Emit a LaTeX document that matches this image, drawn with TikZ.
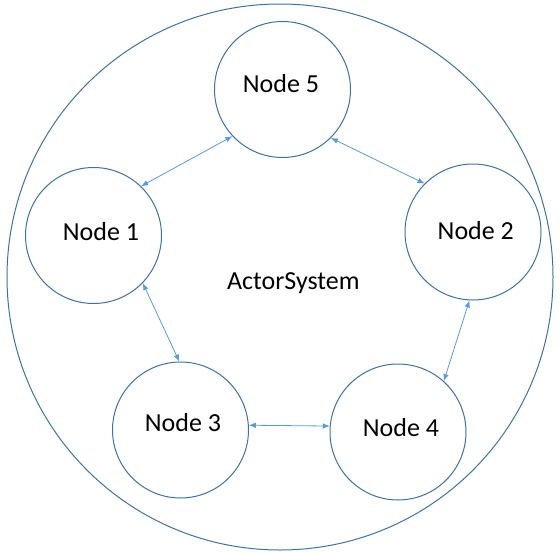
\documentclass[tikz,border=0pt]{standalone}
\usepackage{fontspec}
\setmainfont{Carlito}
\usetikzlibrary{arrows.meta, positioning}
\definecolor{ringblue}{RGB}{65,113,156}
\definecolor{linkblue}{RGB}{91,155,213}

\begin{document}
\begin{tikzpicture}[x=1pt, y=-1pt,
  actor/.style={draw=ringblue, line width=1pt, circle, inner sep=0pt, minimum size=136pt},
  txt/.style={anchor=base, inner sep=0pt, font=\fontsize{26}{30}\selectfont},
  link/.style={{Latex[length=7pt,width=5.5pt]}-{Latex[length=7pt,width=5.5pt]}, draw=linkblue, line width=0.8pt}]
  \useasboundingbox (0,0) rectangle (560,554);

  % ActorSystem
  \node[draw=ringblue, line width=1pt, circle, inner sep=0pt, minimum size=546pt] (sys) at (280,277) {};
  \node[txt] (systxt) at (293.3,289.3) {ActorSystem};

  % Nodes
  \node[actor] (n5) at (282.5,89.5) {};
  \node[actor] (n1) at (93.5,235.5) {};
  \node[actor] (n2) at (473,232) {};
  \node[actor] (n3) at (180.5,430) {};
  \node[actor] (n4) at (398,432) {};

  % Labels
  \node[txt] (t5) at (281,92.7) {Node 5};
  \node[txt] (t1) at (101,240.7) {Node 1};
  \node[txt] (t2) at (475.8,239.3) {Node 2};
  \node[txt] (t3) at (183,431) {Node 3};
  \node[txt] (t4) at (401,436) {Node 4};

  % Links
  \draw[link] (n1.46.7) -- (n5.223.8);
  \draw[link] (n5.315) -- (n2.135);
  \draw[link] (n1.316) -- (n3.91);
  \draw[link] (n2.267.4) -- (n4.48.8);
  \draw[link] (n3.4.5) -- (n4.175.5);
\end{tikzpicture}
\end{document}
